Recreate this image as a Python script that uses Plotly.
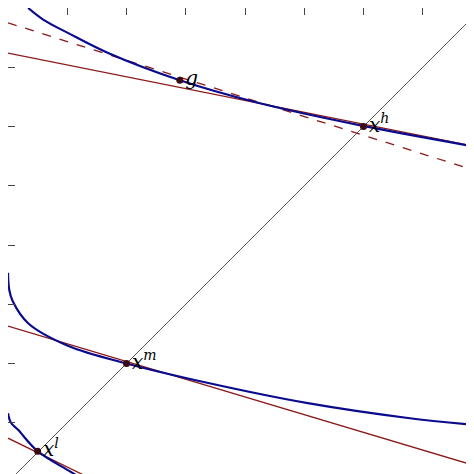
import plotly.graph_objects as go

top_x = [0.34, 0.6, 1.01, 1.69, 2.90, 4.22, 5.99, 8.0]
top_y = [8.0, 7.8, 7.58, 7.24, 6.78, 6.40, 6.01, 5.64]
mid_x = [0.0, 0.02, 0.08, 0.34, 1.01, 2.0, 3.38, 5.06, 6.75, 8.0]
mid_y = [3.53, 3.25, 3.05, 2.68, 2.30, 2.0, 1.67, 1.33, 1.08, 0.95]
low_x = [0.0, 0.05, 0.17, 0.5, 1.01, 1.35]
low_y = [1.16, 1.0, 0.88, 0.52, 0.2, 0.0]

tan_top_x, tan_top_y = [0, 8], [7.24, 5.64]
tan_g_x, tan_g_y = [0, 8], [7.75, 5.22]
tan_mid_x, tan_mid_y = [0, 8], [2.63, 0.24]
tan_low_x, tan_low_y = [0, 1.52], [0.74, 0.0]
diag_x, diag_y = [0, 8], [0, 8]

pt_x = [0.5, 2.0, 6.0, 2.9]
pt_y = [0.52, 2.0, 6.0, 6.78]
pt_lab = ["<i>x</i><sup><i>l</i></sup>", "<i>x</i><sup><i>m</i></sup>",
          "<i>x</i><sup><i>h</i></sup>", "<i>g</i>"]

blue = "#0a0a8c"
red = "#8b1a1a"
fig = go.Figure()
fig.add_scatter(x=diag_x, y=diag_y, mode="lines", line=dict(color="#555", width=1))
for xs, ys, d in [(tan_top_x, tan_top_y, "solid"), (tan_g_x, tan_g_y, "dash"),
                  (tan_mid_x, tan_mid_y, "solid"), (tan_low_x, tan_low_y, "solid")]:
    fig.add_scatter(x=xs, y=ys, mode="lines", line=dict(color=red, width=1.3, dash=d))
for xs, ys in [(top_x, top_y), (mid_x, mid_y), (low_x, low_y)]:
    fig.add_scatter(x=xs, y=ys, mode="lines", line=dict(color=blue, width=2.2, shape="spline"))
fig.add_scatter(x=pt_x, y=pt_y, mode="markers+text", text=pt_lab, textposition="middle right",
                marker=dict(color="#3a0a14", size=7), cliponaxis=False,
                textfont=dict(family="DejaVu Serif", size=20, color="black"))
ax = dict(range=[0, 8], showgrid=False, zeroline=False, showticklabels=False,
          ticks="inside", ticklen=7, tickcolor="#444", dtick=1, mirror="ticks",
          showline=True, linecolor="#bbb", linewidth=1)
fig.update_layout(width=474, height=474,
                  margin=dict(l=0, r=0, t=0, b=0, pad=0, autoexpand=False),
                  showlegend=False, plot_bgcolor="white", paper_bgcolor="white",
                  xaxis=ax, yaxis=ax)
fig.write_html("out.html")
